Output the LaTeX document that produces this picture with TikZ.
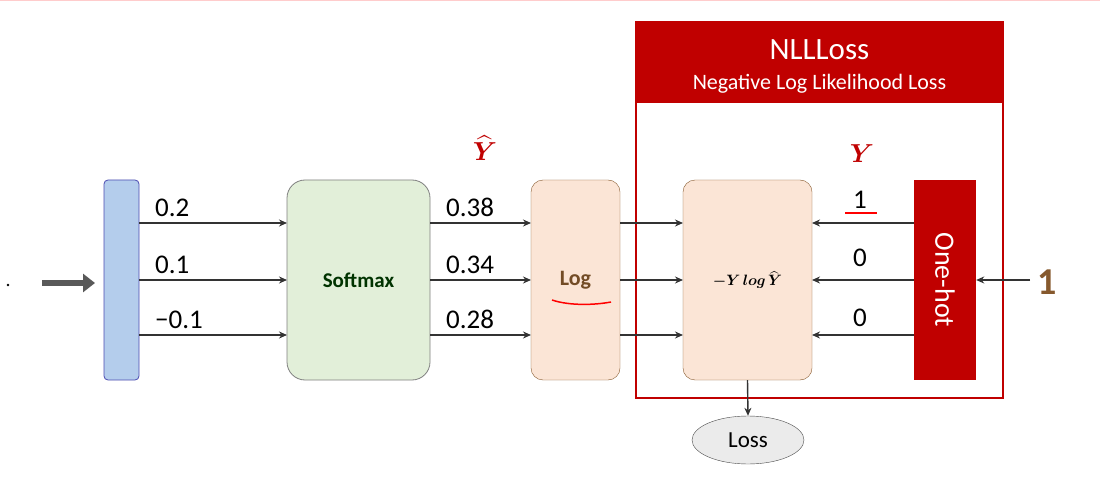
\documentclass[tikz,border=0pt]{standalone}
\usepackage{amsmath}
\usepackage{bm}
\usepackage{graphicx}
\usepackage{fontspec}
\setmainfont{Carlito}
\usetikzlibrary{arrows.meta,shapes.geometric}
\definecolor{dred}{HTML}{C00000}
\definecolor{peach}{HTML}{FBE5D6}
\definecolor{lgreen}{HTML}{E2EFD9}
\definecolor{lblue}{HTML}{B4CDEC}
\begin{document}
\begin{tikzpicture}[x=1pt,y=-1pt,
  box/.style={draw=#1!60!black, rounded corners=8pt, line width=0.8pt},
  conn/.style={-{Stealth[length=8pt,width=7pt]}, line width=1.4pt, draw=black!80},
  num/.style={font=\fontsize{27}{29}\selectfont, inner sep=0pt}]
\useasboundingbox (0,0) rectangle (1100,486);
\fill[white] (0,0) rectangle (1100,486);
\draw[red!20, line width=1pt] (0,1) -- (1100,1);
\node[circle, fill=black, inner sep=1pt] (dot) at (8,285) {};
\coordinate (ga) at (42,283); \coordinate (gb) at (95,283);
\draw[line width=6pt, draw=black!65, -{Triangle[length=12pt,width=18pt]}] (ga) -- (gb);
% blue
\node[box=blue, fill=lblue, draw=blue!40!gray, minimum width=35pt, minimum height=200pt, rounded corners=4pt] (in) at (121.5,280) {};
% softmax
\node[box=green, fill=lgreen, draw=gray, minimum width=143pt, minimum height=200pt, rounded corners=18pt, font=\bfseries\fontsize{21}{23}\selectfont, text=green!20!black] (sm) at (358.5,280) {Softmax};
% log
\node[fill=peach, draw=brown!70!black, minimum width=89pt, minimum height=200pt, rounded corners=12pt, font=\bfseries\fontsize{22}{24}\selectfont, text=brown!60!black] (lg) at (575.5,280) {Log};
\draw[red, line width=1.5pt] (552,300) .. controls (570,306) and (595,305) .. (611,302);
% NLL box
\node[draw=dred, line width=1.5pt, minimum width=367pt, minimum height=376pt, inner sep=0pt] (nll) at (819.5,210) {};
\node[fill=dred, minimum width=367pt, minimum height=81pt, inner sep=0pt, anchor=north] (hdr) at (819.5,22) {};
\node[text=white, font=\fontsize{31}{34}\selectfont] (h1) at (819.5,50) {NLLLoss};
\node[text=white, font=\fontsize{22}{24}\selectfont] (h2) at (819.5,84) {Negative Log Likelihood Loss};
% inner
\node[fill=peach, draw=brown!70!black, minimum width=129pt, minimum height=200pt, rounded corners=12pt] (nl) at (747.5,280) {\scalebox{1.5}{$\bm{-Y\,log\,\widehat{Y}}$}};
% one-hot
\node[fill=dred, minimum width=62pt, minimum height=200pt, inner sep=0pt] (oh) at (945,280) {};
\node[rotate=-90, text=white, font=\fontsize{28}{30}\selectfont] (ohl) at (945,280) {One-hot};
% labels
\node[text=dred] (yh) at (485,148) {\scalebox{2.6}{$\bm{\widehat{Y}}$}};
\node[text=dred] (y) at (862,154) {\scalebox{2.6}{$\bm{Y}$}};
\node[text=brown!70!black, font=\bfseries\fontsize{38}{40}\selectfont] (one) at (1047,282) {1};
% connectors
\foreach \yy/\a/\b/\i in {223/0.2/0.38/1, 280/0.1/0.34/2, 335/\textminus0.1/0.28/3}{
  \coordinate (a\i) at (139,\yy); \coordinate (b\i) at (287,\yy);
  \coordinate (c\i) at (430,\yy); \coordinate (d\i) at (531,\yy);
  \coordinate (e\i) at (620,\yy); \coordinate (f\i) at (683,\yy);
  \coordinate (g\i) at (914,\yy); \coordinate (h\i) at (812,\yy);
  \draw[conn] (a\i) -- (b\i);
  \draw[conn] (c\i) -- (d\i);
  \draw[conn] (e\i) -- (f\i);
  \draw[conn] (g\i) -- (h\i);
  \node[num, anchor=south west] at (155,\yy-6) {\a};
  \node[num, anchor=south west] at (446,\yy-6) {\b};
}
\node[num] (l1) at (860,200) {1};
\node[num] (l2) at (860,258) {0};
\node[num] (l3) at (860,318) {0};
\draw[red, line width=1.5pt] (845,213) -- (877,213);
\coordinate (oa) at (1030,280);
\draw[conn] (oa) -- (oh.east);
% loss
\node[ellipse, draw=black!70, fill=black!8, minimum width=112pt, minimum height=48pt, font=\fontsize{23}{25}\selectfont] (loss) at (748,440) {Loss};
\draw[conn] (nl.south) -- (loss.north);
\end{tikzpicture}
\end{document}
